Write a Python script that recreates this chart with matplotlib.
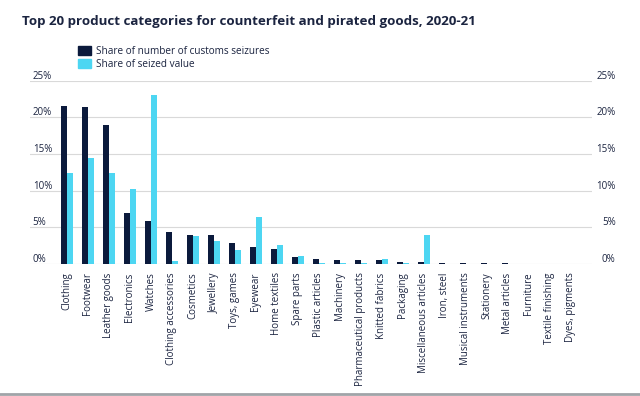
import matplotlib.pyplot as plt
import matplotlib.transforms as mtransforms
from matplotlib.lines import Line2D
import numpy as np

plt.rcParams['font.family'] = ['Open Sans', 'DejaVu Sans']

categories = ['Clothing', 'Footwear', 'Leather goods', 'Electronics', 'Watches',
              'Clothing accessories', 'Cosmetics', 'Jewellery', 'Toys, games', 'Eyewear',
              'Home textiles', 'Spare parts', 'Plastic articles', 'Machinery',
              'Pharmaceutical products', 'Knitted fabrics', 'Packaging',
              'Miscellaneous articles', 'Iron, steel', 'Musical instruments', 'Stationery',
              'Metal articles', 'Furniture', 'Textile finishing', 'Dyes, pigments']

# share of number of customs seizures (%)
seizures = [21.6, 21.4, 19.0, 7.0, 5.9, 4.4, 3.9, 3.9, 2.8, 2.3, 2.0, 1.0, 0.65,
            0.6, 0.6, 0.6, 0.3, 0.3, 0.2, 0.15, 0.12, 0.08, 0.06, 0.05, 0.05]
# share of seized value (%)
value = [12.4, 14.5, 12.4, 10.2, 23.1, 0.45, 3.8, 3.2, 1.9, 6.4, 2.6, 1.1, 0.1,
         0.2, 0.2, 0.7, 0.1, 3.9, 0.02, 0.02, 0.02, 0.01, 0.01, 0.01, 0.01]

yticks = [0, 5, 10, 15, 20, 25]

navy = '#0b1a3c'
cyan = '#4dd6f2'
textc = '#1b2440'

fig = plt.figure(figsize=(6.4, 3.96), dpi=100)
ax = fig.add_axes([30 / 640, 1 - 264 / 396, 562 / 640, (264 - 80.7) / 396])

x = np.arange(len(categories))
w = 0.3
ax.bar(x - w / 2, seizures, w, color=navy, zorder=3)
ax.bar(x + w / 2, value, w, color=cyan, zorder=3)

ax.set_xlim(-1.76, 25.0)
ax.set_ylim(0, 25)
ax.set_yticks(yticks)
ax.grid(axis='y', color='#d9d9d9', linewidth=0.8, zorder=0)
ax.tick_params(axis='y', length=0, labelleft=False)
for s in ax.spines.values():
    s.set_visible(False)

# % labels sit just above the gridlines, on both sides
trans = mtransforms.blended_transform_factory(ax.transAxes, ax.transData)
off = mtransforms.offset_copy(trans, fig=fig, y=1.5, units='points')
for t in yticks:
    ax.text(0.005, t, f'{t}%', transform=off, ha='left', va='baseline',
            fontsize=7, color=textc)
    ax.text(1.042, t, f'{t}%', transform=off, ha='right', va='baseline',
            fontsize=7, color=textc)

ax.set_xticks(x)
ax.set_xticklabels(categories, rotation=90, fontsize=7, color=textc)
ax.tick_params(axis='x', length=0, pad=6)

fig.text(22 / 640, 1 - 22 / 396, 'Top 20 product categories for counterfeit and pirated goods, 2020-21',
         fontsize=9.6, fontweight='bold', color=textc, va='center', ha='left')

handles = [plt.Rectangle((0, 0), 1, 1, color=navy), plt.Rectangle((0, 0), 1, 1, color=cyan)]
fig.legend(handles, ['Share of number of customs seizures', 'Share of seized value'],
           loc='upper left', bbox_to_anchor=(73 / 640, 1 - 41 / 396), frameon=False,
           fontsize=7.2, handlelength=1.3, handleheight=0.9, handletextpad=0.5,
           labelspacing=0.2, borderpad=0, labelcolor=textc)

fig.add_artist(Line2D([0, 1], [1 - 394 / 396, 1 - 394 / 396], transform=fig.transFigure,
                      color='#a0a4a8', linewidth=2))

fig.savefig('out.png', dpi=100, facecolor='white')
